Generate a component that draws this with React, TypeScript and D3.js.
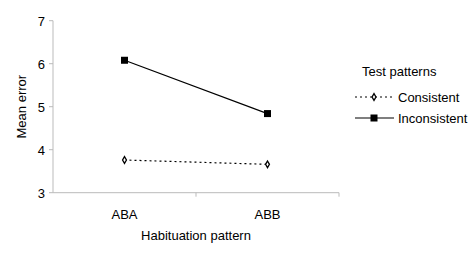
import React, { useEffect, useRef } from 'react'
import * as d3 from 'd3'

const categories = ['ABA', 'ABB']
const consistent = [3.76, 3.66]
const inconsistent = [6.08, 4.84]
const yTicks = [3, 4, 5, 6, 7]

const W = 474
const H = 258
const font = 'Liberation Sans, Arial, sans-serif'

function App() {
  const ref = useRef<SVGSVGElement>(null)

  useEffect(() => {
    const svg = d3.select(ref.current)
    svg.selectAll('*').remove()

    const x = d3.scaleBand().domain(categories).range([53, 339])
    const y = d3.scaleLinear().domain([3, 7]).range([192.7, 20.7])
    const cx = (c: string) => (x(c) as number) + x.bandwidth() / 2

    // axes
    svg.append('line')
      .attr('x1', 53).attr('x2', 53)
      .attr('y1', y(7)).attr('y2', y(3))
      .attr('stroke', '#bbb')
    svg.append('line')
      .attr('x1', 53).attr('x2', 339)
      .attr('y1', y(3)).attr('y2', y(3))
      .attr('stroke', '#bbb')

    svg.selectAll('.yt')
      .data(yTicks)
      .enter()
      .append('line')
      .attr('x1', 49).attr('x2', 53)
      .attr('y1', d => y(d)).attr('y2', d => y(d))
      .attr('stroke', '#bbb')

    svg.selectAll('.yl')
      .data(yTicks)
      .enter()
      .append('text')
      .attr('x', 45)
      .attr('y', d => y(d) + 5)
      .attr('text-anchor', 'end')
      .attr('font-family', font)
      .attr('font-size', 13)
      .text(d => d)

    // x ticks between bands
    const bounds = [53 + x.bandwidth(), 339]
    svg.selectAll('.xt')
      .data(bounds)
      .enter()
      .append('line')
      .attr('x1', d => d).attr('x2', d => d)
      .attr('y1', y(3)).attr('y2', y(3) + 4)
      .attr('stroke', '#bbb')

    svg.selectAll('.xl')
      .data(categories)
      .enter()
      .append('text')
      .attr('x', d => cx(d))
      .attr('y', 219)
      .attr('text-anchor', 'middle')
      .attr('font-family', font)
      .attr('font-size', 13)
      .text(d => d)

    svg.append('text')
      .attr('x', 196).attr('y', 240)
      .attr('text-anchor', 'middle')
      .attr('font-family', font)
      .attr('font-size', 13)
      .text('Habituation pattern')

    svg.append('text')
      .attr('transform', `translate(26,${y(5)}) rotate(-90)`)
      .attr('text-anchor', 'middle')
      .attr('font-family', font)
      .attr('font-size', 13)
      .text('Mean error')

    const line = d3.line<number>()
      .x((_, i) => cx(categories[i]))
      .y(d => y(d))

    svg.append('path')
      .attr('d', line(consistent))
      .attr('fill', 'none')
      .attr('stroke', '#000')
      .attr('stroke-width', 1.2)
      .attr('stroke-dasharray', '2,3')

    svg.append('path')
      .attr('d', line(inconsistent))
      .attr('fill', 'none')
      .attr('stroke', '#000')
      .attr('stroke-width', 1.2)

    const diamond = d3.symbol().type(d3.symbolDiamond).size(13)
    svg.selectAll('.cm')
      .data(consistent)
      .enter()
      .append('path')
      .attr('d', diamond)
      .attr('transform', (d, i) => `translate(${cx(categories[i])},${y(d)})`)
      .attr('fill', '#fff')
      .attr('stroke', '#000')
      .attr('stroke-width', 1.3)

    svg.selectAll('.im')
      .data(inconsistent)
      .enter()
      .append('rect')
      .attr('x', (d, i) => cx(categories[i]) - 3.5)
      .attr('y', d => y(d) - 3.5)
      .attr('width', 7).attr('height', 7)
      .attr('fill', '#000')

    // legend
    const lg = svg.append('g')
    lg.append('text')
      .attr('x', 362).attr('y', 76)
      .attr('font-family', font)
      .attr('font-size', 13)
      .text('Test patterns')

    lg.append('line')
      .attr('x1', 355).attr('x2', 394)
      .attr('y1', 97).attr('y2', 97)
      .attr('stroke', '#000')
      .attr('stroke-width', 1.2)
      .attr('stroke-dasharray', '2,3')
    lg.append('path')
      .attr('d', diamond)
      .attr('transform', 'translate(374,97)')
      .attr('fill', '#fff')
      .attr('stroke', '#000')
      .attr('stroke-width', 1.3)
    lg.append('text')
      .attr('x', 398).attr('y', 101.5)
      .attr('font-family', font)
      .attr('font-size', 13)
      .text('Consistent')

    lg.append('line')
      .attr('x1', 355).attr('x2', 394)
      .attr('y1', 118).attr('y2', 118)
      .attr('stroke', '#000')
      .attr('stroke-width', 1.2)
    lg.append('rect')
      .attr('x', 370.5).attr('y', 114.5)
      .attr('width', 7).attr('height', 7)
      .attr('fill', '#000')
    lg.append('text')
      .attr('x', 398).attr('y', 122.5)
      .attr('font-family', font)
      .attr('font-size', 13)
      .text('Inconsistent')
  }, [])

  return (
    <svg ref={ref} width={W} height={H}
      style={{ position: 'absolute', left: 0, top: 0, background: '#fff' }} />
  )
}

export default App
